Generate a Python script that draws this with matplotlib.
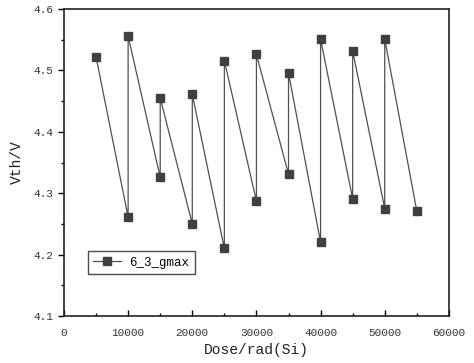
import matplotlib
matplotlib.use("Agg")
import matplotlib.pyplot as plt
from matplotlib.ticker import MultipleLocator

dose = [5000, 10000, 10000, 15000, 15000, 20000, 20000, 25000, 25000, 30000,
        30000, 35000, 35000, 40000, 40000, 45000, 45000, 50000, 50000, 55000]
vth = [4.522, 4.261, 4.556, 4.326, 4.455, 4.250, 4.461, 4.210, 4.516, 4.287,
       4.526, 4.331, 4.496, 4.220, 4.551, 4.291, 4.532, 4.275, 4.551, 4.271]
series_name = "6_3_gmax"

plt.rcParams['font.family'] = ['Liberation Mono', 'DejaVu Sans']

fig = plt.figure(figsize=(4.74, 3.63), dpi=100)
ax = fig.add_axes([0.135, 0.1295, 0.812, 0.8455])
ax.plot(dose, vth, color='#505050', lw=0.9, marker='s', markersize=5.5,
        markerfacecolor='#404040', markeredgecolor='#404040', label=series_name)
ax.set_xlim(0, 60000)
ax.set_ylim(4.1, 4.6)
ax.xaxis.set_major_locator(MultipleLocator(10000))
ax.xaxis.set_minor_locator(MultipleLocator(5000))
ax.yaxis.set_major_locator(MultipleLocator(0.1))
ax.yaxis.set_minor_locator(MultipleLocator(0.05))
ax.tick_params(axis='x', which='both', direction='in', labelsize=8, pad=9,
               labelcolor='#333333')
ax.tick_params(axis='y', which='both', direction='out', labelsize=8,
               labelcolor='#333333')
ax.tick_params(which='major', length=4, width=1)
ax.tick_params(which='minor', length=2.5, width=1)
for s in ax.spines.values():
    s.set_linewidth(1.2)
    s.set_color('#222222')
ax.set_xlabel("Dose/rad(Si)", fontsize=10.5, labelpad=3, color='#222222')
ax.set_ylabel("Vth/V", fontsize=10.5, labelpad=7, color='#222222')
leg = ax.legend(loc='lower left', bbox_to_anchor=(0.045, 0.115), frameon=True,
                fancybox=False, edgecolor='#222222', fontsize=9,
                handlelength=2.2, borderpad=0.45, handletextpad=0.7)
leg.get_frame().set_linewidth(1.0)
fig.savefig("out.png", dpi=100)
